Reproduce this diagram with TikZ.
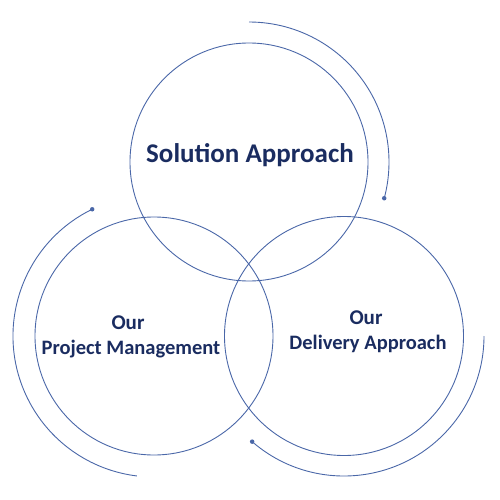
\documentclass[tikz,border=0pt]{standalone}
\usepackage{fontspec}
\setmainfont{Carlito}
\usetikzlibrary{calc}
\definecolor{ringblue}{HTML}{4A67A8}
\definecolor{textnavy}{HTML}{1A2C60}
\begin{document}
\begin{tikzpicture}[x=1pt,y=-1pt,
  ring/.style={draw=ringblue,line width=0.9pt},
  orbit/.style={draw=ringblue,line width=0.9pt},
  tipdot/.style={circle,fill=ringblue,inner sep=0pt,minimum size=4.5pt},
  lbl/.style={text=textnavy,align=center}]
\useasboundingbox (0,0) rectangle (500,500);
% circles
\node[ring,circle,minimum size=238pt,inner sep=0pt] (top) at (249,162) {};
\node[ring,circle,minimum size=238pt,inner sep=0pt] (left) at (154,336) {};
\node[ring,circle,minimum size=239pt,inner sep=0pt] (right) at (344,336) {};
% labels
\node[lbl,font=\bfseries\fontsize{27}{31}\selectfont] (ts) at (250,155) {Solution Approach};
\node[lbl,font=\bfseries\fontsize{21}{24}\selectfont] (lo) at (128,323) {Our};
\node[lbl,font=\bfseries\fontsize{20.5}{24}\selectfont] (lp) at (131,349) {Project Management};
\node[lbl,font=\bfseries\fontsize{21}{24}\selectfont] (ro) at (366,318) {Our};
\node[lbl,font=\bfseries\fontsize{20.5}{24}\selectfont] (rd) at (368,344) {Delivery Approach};
% orbit arcs
\draw[orbit] ($(top.center)+(90:140pt)$) coordinate (a1s)
  arc[start angle=90,end angle=-15,radius=140pt] coordinate (a1e);
\node[tipdot] (d1) at (a1e) {};
\draw[orbit] ($(left.center)+(116:141pt)$) coordinate (a2s)
  arc[start angle=116,end angle=263,radius=141pt] coordinate (a2e);
\node[tipdot] (d2) at (a2s) {};
\draw[orbit] ($(right.center)+(229:140pt)$) coordinate (a3s)
  arc[start angle=229,end angle=360,radius=140pt] coordinate (a3e);
\node[tipdot] (d3) at (a3s) {};
\end{tikzpicture}
\end{document}
